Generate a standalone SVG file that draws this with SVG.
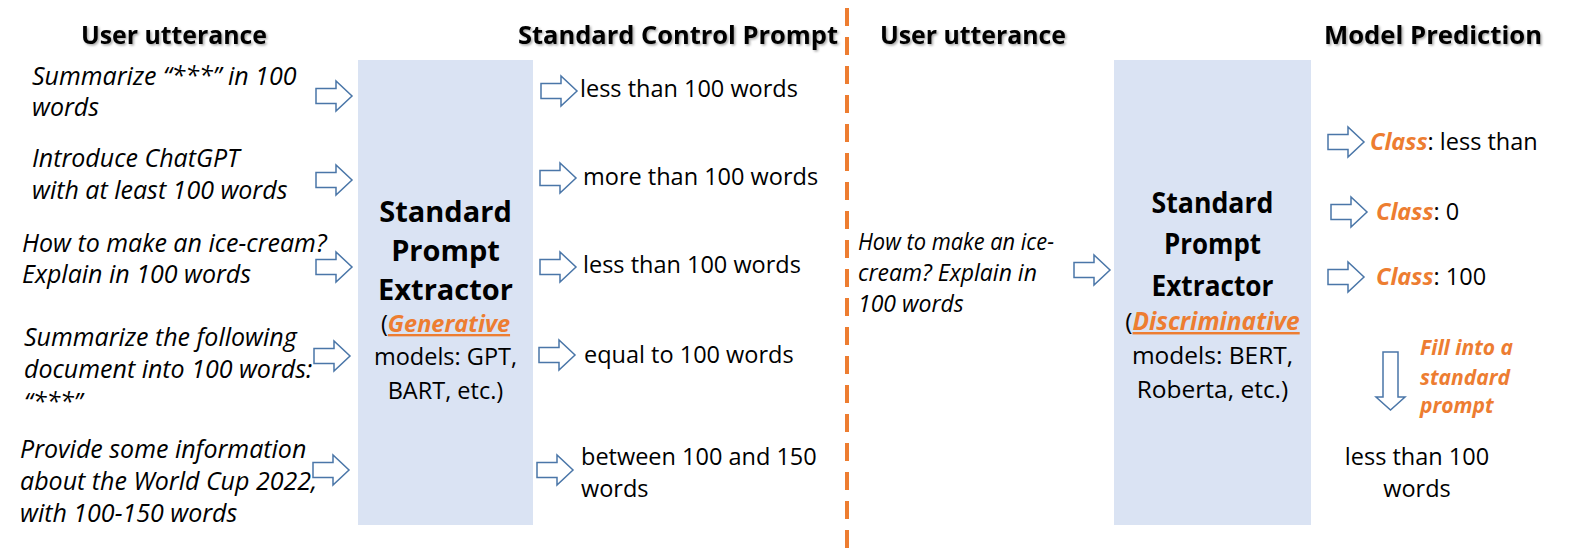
<svg xmlns="http://www.w3.org/2000/svg" width="1581" height="554" viewBox="0 0 1581 554">
<style>
.hdr{font-family:"Open Sans","Liberation Sans",sans-serif;font-weight:bold;font-size:25px;fill:#000;filter:url(#sh)}
.it{font-family:"Open Sans","Liberation Sans",sans-serif;font-style:italic;font-size:25px;fill:#000}
.it2{font-family:"Open Sans","Liberation Sans",sans-serif;font-style:italic;font-size:23px;fill:#000}
.tx{font-family:"Open Sans","Liberation Sans",sans-serif;font-size:23.5px;fill:#000}
.tx2{font-family:"Open Sans","Liberation Sans",sans-serif;font-size:24.5px;fill:#000;text-anchor:middle}
.bt{font-family:"Open Sans","Liberation Sans",sans-serif;font-weight:bold;font-size:29px;fill:#000;text-anchor:middle}
.mid{text-anchor:middle}
.or{fill:#ED7D31;font-weight:bold;font-style:italic}
.ul{text-decoration:underline}
.fl{font-family:"Open Sans","Liberation Sans",sans-serif;font-size:21px;fill:#ED7D31;font-weight:bold;font-style:italic}
.box{fill:#DAE3F3}
.arr{fill:#fff;stroke:#4A76A8;stroke-width:1.5}
.dash{stroke:#ED7D31;stroke-width:4;stroke-dasharray:18 11;fill:none}
</style>
<defs>
<filter id="sh" x="-5%" y="-20%" width="115%" height="160%">
<feDropShadow dx="1.5" dy="1.5" stdDeviation="1" flood-color="#000" flood-opacity="0.35"/>
</filter>
<path id="ra" d="M0,-7.5 H20 V-15 L36,0 L20,15 V7.5 H0 Z"/>
</defs>

<g id="headers">
<text class="hdr" x="81" y="44" textLength="186" lengthAdjust="spacingAndGlyphs">User utterance</text>
<text class="hdr" x="518" y="44" textLength="320" lengthAdjust="spacingAndGlyphs">Standard Control Prompt</text>
<text class="hdr" x="880" y="44" textLength="186" lengthAdjust="spacingAndGlyphs">User utterance</text>
<text class="hdr" x="1324" y="44" textLength="218" lengthAdjust="spacingAndGlyphs">Model Prediction</text>
</g>

<g id="utt1"><text class="it" x="32" y="85">Summarize “***” in 100</text><text class="it" x="32" y="116">words</text></g>
<g id="utt2"><text class="it" x="32" y="167">Introduce ChatGPT</text><text class="it" x="32" y="199">with at least 100 words</text></g>
<g id="utt3"><text class="it" x="22" y="252">How to make an ice-cream?</text><text class="it" x="22" y="283">Explain in 100 words</text></g>
<g id="utt4"><text class="it" x="24" y="346">Summarize the following</text><text class="it" x="24" y="378">document into 100 words:</text><text class="it" x="24" y="411">“***”</text></g>
<g id="utt5"><text class="it" x="20" y="458">Provide some information</text><text class="it" x="20" y="490">about the World Cup 2022,</text><text class="it" x="20" y="522">with 100-150 words</text></g>

<g id="extractor-gen">
<rect class="box" x="358" y="60" width="175" height="465"/>
<text class="bt" x="445.5" y="222">Standard</text>
<text class="bt" x="445.5" y="261">Prompt</text>
<text class="bt" x="445.5" y="300">Extractor</text>
<text class="tx mid" x="445.5" y="332">(<tspan class="or ul">Generative</tspan></text>
<text class="tx mid" x="445.5" y="365">models: GPT,</text>
<text class="tx mid" x="445.5" y="399">BART, etc.)</text>
</g>

<g id="out1"><text class="tx" x="580" y="97">less than 100 words</text></g>
<g id="out2"><text class="tx" x="583" y="185">more than 100 words</text></g>
<g id="out3"><text class="tx" x="583" y="273">less than 100 words</text></g>
<g id="out4"><text class="tx" x="584" y="363">equal to 100 words</text></g>
<g id="out5"><text class="tx" x="581" y="465">between 100 and 150</text><text class="tx" x="581" y="497">words</text></g>

<g id="utt-r"><text class="it2" x="858" y="250" textLength="196" lengthAdjust="spacingAndGlyphs">How to make an ice-</text><text class="it2" x="858" y="281">cream? Explain in</text><text class="it2" x="858" y="312">100 words</text></g>

<g id="extractor-disc">
<rect class="box" x="1114" y="60" width="197" height="465"/>
<text class="bt" x="1212.5" y="213" textLength="122" lengthAdjust="spacingAndGlyphs">Standard</text>
<text class="bt" x="1212.5" y="254" textLength="97" lengthAdjust="spacingAndGlyphs">Prompt</text>
<text class="bt" x="1212.5" y="296" textLength="122" lengthAdjust="spacingAndGlyphs">Extractor</text>
<text class="tx2" x="1212.5" y="330">(<tspan class="or ul">Discriminative</tspan></text>
<text class="tx2" x="1212.5" y="364">models: BERT,</text>
<text class="tx2" x="1212.5" y="398">Roberta, etc.)</text>
</g>

<g id="pred1"><text class="tx" x="1370" y="150"><tspan class="or">Class</tspan>: less than</text></g>
<g id="pred2"><text class="tx" x="1376" y="220"><tspan class="or">Class</tspan>: 0</text></g>
<g id="pred3"><text class="tx" x="1376" y="285"><tspan class="or">Class</tspan>: 100</text></g>
<g id="fill-label"><text class="fl" x="1420" y="355">Fill into a</text><text class="fl" x="1420" y="385">standard</text><text class="fl" x="1420" y="413">prompt</text></g>
<g id="final"><text class="tx mid" x="1417" y="465">less than 100</text><text class="tx mid" x="1417" y="497">words</text></g>

<g id="connectors">
<line class="dash" x1="847" y1="8" x2="847" y2="548"/>
<use href="#ra" class="arr" transform="translate(316,96)"/>
<use href="#ra" class="arr" transform="translate(316,180)"/>
<use href="#ra" class="arr" transform="translate(316,267)"/>
<use href="#ra" class="arr" transform="translate(314,356)"/>
<use href="#ra" class="arr" transform="translate(313,470)"/>
<use href="#ra" class="arr" transform="translate(541,91)"/>
<use href="#ra" class="arr" transform="translate(540,178)"/>
<use href="#ra" class="arr" transform="translate(540,267)"/>
<use href="#ra" class="arr" transform="translate(539,355)"/>
<use href="#ra" class="arr" transform="translate(537,470)"/>
<use href="#ra" class="arr" transform="translate(1074,270)"/>
<use href="#ra" class="arr" transform="translate(1328,142)"/>
<use href="#ra" class="arr" transform="translate(1331,212)"/>
<use href="#ra" class="arr" transform="translate(1328,277)"/>
<path class="arr" d="M1383,352 H1398 V397 H1405 L1390.5,410 L1376,397 H1383 Z"/>
</g>
</svg>
